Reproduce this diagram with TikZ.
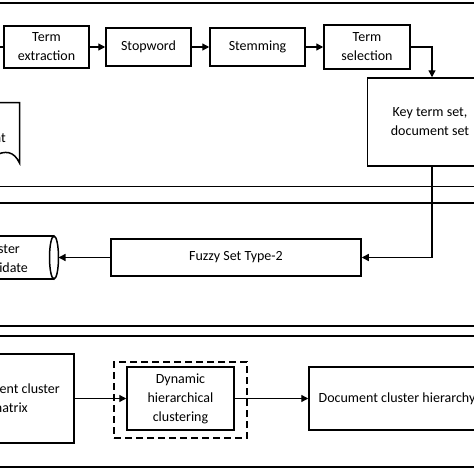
\documentclass[tikz,border=0pt]{standalone}
\usepackage{fontspec}
\setmainfont{Carlito}
\usetikzlibrary{arrows.meta}
\begin{document}
\begin{tikzpicture}[x=1pt,y=-1pt,
  box/.style={draw,line width=1.5pt,align=center,inner sep=0pt,font=\fontsize{14}{19}\selectfont},
  txt/.style={align=center,inner sep=0pt,font=\fontsize{14}{19}\selectfont},
  conn/.style={line width=1.3pt,-{Triangle[length=7pt,width=7pt]}},
  plain/.style={line width=1.3pt},
  frame/.style={line width=1.7pt},
  dashbox/.style={draw,line width=1.5pt,dash pattern=on 7pt off 4pt,inner sep=0pt}]
\useasboundingbox (0,0) rectangle (474,474);
\clip (0,0) rectangle (474,474);
\fill[white] (0,0) rectangle (474,474);
% section frames
\draw[frame] (-10,3) rectangle (484,186.5);
\draw[frame] (-10,203) rectangle (484,326);
\draw[frame] (-10,336) rectangle (484,467);
% section 1
\node[box,minimum width=85pt,minimum height=42pt] (te) at (46.5,47) {Term\\extraction};
\node[box,minimum width=85pt,minimum height=38pt] (sw) at (148.5,47) {Stopword};
\node[box,minimum width=95pt,minimum height=38pt] (st) at (257.5,47) {Stemming};
\node[box,minimum width=86pt,minimum height=44pt] (ts) at (367,47) {Term\\selection};
\node[box,minimum width=125pt,minimum height=88pt] (kt) at (430,122) {Key term set,\\document set};
\coordinate (kx) at (432,0);
\coordinate (inL) at (-5,47);
\draw[plain] (inL) -- (te.west);
\draw[conn] (te) -- (sw);
\draw[conn] (sw) -- (st);
\draw[conn] (st) -- (ts);
\draw[conn] (ts.east) -| (kt.north -| kx);
% document shape
\draw[line width=1.5pt,fill=white] (-60,102.5) -- (19.5,102.5) -- (19.5,163)
  .. controls (14,151) and (5,150) .. (-6,156) -- (-60,160);
\node[txt,anchor=east] (doc) at (6,138.5) {Document};
% section 2
\node[box,minimum width=250pt,minimum height=37pt] (fz) at (236,257.5) {Fuzzy Set Type-2};
\draw[line width=1.5pt] (-60,236) -- (54,236);
\draw[line width=1.5pt] (-60,279) -- (54,279);
\draw[line width=1.5pt] (54,257.5) ellipse [x radius=4.5, y radius=21.5];
\node[txt] (cc) at (0,258) {Cluster\\candidate};
\coordinate (ccE) at (58.5,257.5);
\draw[conn] (kt.south -| kx) |- (fz.east);
\draw[conn] (fz.west) -- (ccE);
% section 3
\node[box,minimum width=129pt,minimum height=89pt] (dcm) at (9.5,398.5) {Document cluster\\matrix};
\node[dashbox,minimum width=133pt,minimum height=76pt] (dsh) at (180.5,400) {};
\node[box,minimum width=107pt,minimum height=63pt] (dhc) at (180.5,398.5) {Dynamic\\hierarchical\\clustering};
\node[box,minimum width=176pt,minimum height=63pt] (dch) at (397,398.5) {Document cluster hierarchy};
\draw[conn] (dcm) -- (dhc);
\draw[conn] (dhc) -- (dch);
\end{tikzpicture}
\end{document}
